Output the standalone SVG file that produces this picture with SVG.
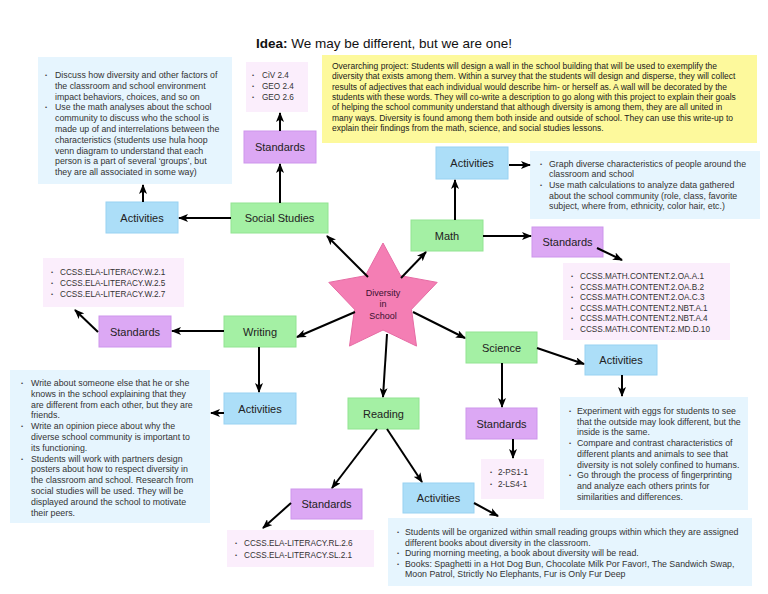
<svg xmlns="http://www.w3.org/2000/svg" width="768" height="594" viewBox="0 0 768 594">
<style>
text{font-family:"Liberation Sans",Arial,sans-serif}
.lbl{font-size:11px;fill:#222;text-anchor:middle}
.t{font-size:8.8px;fill:#333}
.s{font-size:8.2px;fill:#333}
.y{font-size:8.5px;fill:#1a1a1a}
.b{font-size:6px;fill:#444}
.green{fill:#A4F0A4;stroke:#92E492;stroke-width:1}
.purple{fill:#DCA8F4;stroke:#CD95EC;stroke-width:1}
.blue{fill:#ACDEF8;stroke:#98D2F2;stroke-width:1}
.lblue{fill:#E6F5FE}
.lpink{fill:#FBEEFC}
.conn line{stroke:#000;stroke-width:2;marker-end:url(#ah)}
</style>
<defs>
<marker id="ah" viewBox="0 0 10 8" markerWidth="5" markerHeight="4" refX="9" refY="4" orient="auto">
<path d="M0,0 L10,4 L0,8 L2.5,4 z" fill="#000"/>
</marker>
</defs>
<rect width="768" height="594" fill="#fff"/>

<text x="384" y="48" text-anchor="middle" font-size="13.5" fill="#111"><tspan font-weight="bold">Idea:</tspan> We may be different, but we are one!</text>

<g id="project">
<rect x="322" y="55" width="435" height="88" fill="#FDF99C"/>
<text class="y" x="332" y="69">Overarching project: Students will design a wall in the school building that will be used to exemplify the</text>
<text class="y" x="332" y="79.3">diversity that exists among them. Within a survey that the students will design and disperse, they will collect</text>
<text class="y" x="332" y="89.6">results of adjectives that each individual would describe him- or herself as. A wall will be decorated by the</text>
<text class="y" x="332" y="99.9">students with these words. They will co-write a description to go along with this project to explain their goals</text>
<text class="y" x="332" y="110.2">of helping the school community understand that although diversity is among them, they are all united in</text>
<text class="y" x="332" y="120.5">many ways. Diversity is found among them both inside and outside of school. They can use this write-up to</text>
<text class="y" x="332" y="130.8">explain their findings from the math, science, and social studies lessons.</text>
</g>

<g id="star">
<polygon points="383,243 400.6,275.7 437.2,282.4 411.5,309.3 416.5,346.1 383,330 349.5,346.1 354.5,309.3 328.8,282.4 365.4,275.7" fill="#F47EB4" stroke="#E66BA4" stroke-width="1"/>
<text x="383" y="296" text-anchor="middle" font-size="9" fill="#3a1030">Diversity</text>
<text x="383" y="307" text-anchor="middle" font-size="9" fill="#3a1030">in</text>
<text x="383" y="319" text-anchor="middle" font-size="9" fill="#3a1030">School</text>
</g>

<!-- Social Studies branch -->
<g id="social-studies"><rect class="green" x="231" y="203" width="97" height="30"/><text class="lbl" x="279.5" y="222">Social Studies</text></g>
<g id="ss-standards"><rect class="purple" x="244" y="131" width="72" height="32"/><text class="lbl" x="280" y="151">Standards</text></g>
<g id="ss-standards-list"><rect class="lpink" x="246" y="62" width="62" height="50"/>
<text class="b" x="252" y="77">•</text><text class="s" x="262" y="78" font-size="8.6">CiV 2.4</text>
<text class="b" x="252" y="88">•</text><text class="s" x="262" y="89" font-size="8.6">GEO 2.4</text>
<text class="b" x="252" y="99">•</text><text class="s" x="262" y="100" font-size="8.6">GEO 2.6</text>
</g>
<g id="ss-activities"><rect class="blue" x="106" y="202" width="72" height="31"/><text class="lbl" x="142" y="221.5">Activities</text></g>
<g id="ss-activities-list"><rect class="lblue" x="38" y="57" width="194" height="127"/>
<text class="b" x="45" y="77">•</text>
<text class="t" x="55" y="78">Discuss how diversity and other factors of</text>
<text class="t" x="55" y="88.8">the classroom and school environment</text>
<text class="t" x="55" y="99.6">impact behaviors, choices, and so on</text>
<text class="b" x="45" y="109.4">•</text>
<text class="t" x="55" y="110.4">Use the math analyses about the school</text>
<text class="t" x="55" y="121.2">community to discuss who the school is</text>
<text class="t" x="55" y="132">made up of and interrelations between the</text>
<text class="t" x="55" y="142.8">characteristics (students use hula hoop</text>
<text class="t" x="55" y="153.6">venn diagram to understand that each</text>
<text class="t" x="55" y="164.4">person is a part of several ‘groups’, but</text>
<text class="t" x="55" y="175.2">they are all associated in some way)</text>
</g>

<!-- Math branch -->
<g id="math"><rect class="green" x="411" y="220" width="72" height="31"/><text class="lbl" x="447" y="239.5">Math</text></g>
<g id="math-activities"><rect class="blue" x="436" y="147" width="72" height="32"/><text class="lbl" x="472" y="167">Activities</text></g>
<g id="math-activities-list"><rect class="lblue" x="530" y="151" width="230" height="68"/>
<text class="b" x="540" y="165.5">•</text>
<text class="t" x="549" y="166.5">Graph diverse characteristics of people around the</text>
<text class="t" x="549" y="177.2">classroom and school</text>
<text class="b" x="540" y="187">•</text>
<text class="t" x="549" y="188">Use math calculations to analyze data gathered</text>
<text class="t" x="549" y="198.7">about the school community (role, class, favorite</text>
<text class="t" x="549" y="209.4">subject, where from, ethnicity, color hair, etc.)</text>
</g>
<g id="math-standards"><rect class="purple" x="532" y="227" width="71" height="30"/><text class="lbl" x="567.5" y="246">Standards</text></g>
<g id="math-standards-list"><rect class="lpink" x="563" y="263" width="167" height="77"/>
<text class="b" x="571" y="278">•</text><text class="s" x="580" y="279">CCSS.MATH.CONTENT.2.OA.A.1</text>
<text class="b" x="571" y="288.5">•</text><text class="s" x="580" y="289.5">CCSS.MATH.CONTENT.2.OA.B.2</text>
<text class="b" x="571" y="299">•</text><text class="s" x="580" y="300">CCSS.MATH.CONTENT.2.OA.C.3</text>
<text class="b" x="571" y="309.5">•</text><text class="s" x="580" y="310.5">CCSS.MATH.CONTENT.2.NBT.A.1</text>
<text class="b" x="571" y="320">•</text><text class="s" x="580" y="321">CCSS.MATH.CONTENT.2.NBT.A.4</text>
<text class="b" x="571" y="330.5">•</text><text class="s" x="580" y="331.5">CCSS.MATH.CONTENT.2.MD.D.10</text>
</g>

<!-- Writing branch -->
<g id="writing"><rect class="green" x="224" y="316" width="72" height="31"/><text class="lbl" x="260" y="335.5">Writing</text></g>
<g id="writing-standards"><rect class="purple" x="99" y="316" width="72" height="31"/><text class="lbl" x="135" y="335.5">Standards</text></g>
<g id="writing-standards-list"><rect class="lpink" x="43" y="258" width="141" height="49"/>
<text class="b" x="51" y="274">•</text><text class="s" x="60" y="275">CCSS.ELA-LITERACY.W.2.1</text>
<text class="b" x="51" y="285">•</text><text class="s" x="60" y="286">CCSS.ELA-LITERACY.W.2.5</text>
<text class="b" x="51" y="296">•</text><text class="s" x="60" y="297">CCSS.ELA-LITERACY.W.2.7</text>
</g>
<g id="writing-activities"><rect class="blue" x="224" y="393" width="72" height="31"/><text class="lbl" x="260" y="412.5">Activities</text></g>
<g id="writing-activities-list"><rect class="lblue" x="10" y="370" width="200" height="153"/>
<text class="b" x="21" y="385">•</text>
<text class="t" x="31" y="386">Write about someone else that he or she</text>
<text class="t" x="31" y="396.8">knows in the school explaining that they</text>
<text class="t" x="31" y="407.6">are different from each other, but they are</text>
<text class="t" x="31" y="418.4">friends.</text>
<text class="b" x="21" y="428.2">•</text>
<text class="t" x="31" y="429.2">Write an opinion piece about why the</text>
<text class="t" x="31" y="440">diverse school community is important to</text>
<text class="t" x="31" y="450.8">its functioning.</text>
<text class="b" x="21" y="460.6">•</text>
<text class="t" x="31" y="461.6">Students will work with partners design</text>
<text class="t" x="31" y="472.4">posters about how to respect diversity in</text>
<text class="t" x="31" y="483.2">the classroom and school. Research from</text>
<text class="t" x="31" y="494">social studies will be used. They will be</text>
<text class="t" x="31" y="504.8">displayed around the school to motivate</text>
<text class="t" x="31" y="515.6">their peers.</text>
</g>

<!-- Science branch -->
<g id="science"><rect class="green" x="466" y="332" width="71" height="31"/><text class="lbl" x="501.5" y="351.5">Science</text></g>
<g id="science-standards"><rect class="purple" x="466" y="408" width="71" height="31"/><text class="lbl" x="501.5" y="427.5">Standards</text></g>
<g id="science-standards-list"><rect class="lpink" x="481" y="459" width="63" height="40"/>
<text class="b" x="490" y="474">•</text><text class="s" x="498" y="475" font-size="8.6">2-PS1-1</text>
<text class="b" x="490" y="486">•</text><text class="s" x="498" y="487" font-size="8.6">2-LS4-1</text>
</g>
<g id="science-activities"><rect class="blue" x="585" y="345" width="72" height="30"/><text class="lbl" x="621" y="364">Activities</text></g>
<g id="science-activities-list"><rect class="lblue" x="560" y="397" width="188" height="113"/>
<text class="b" x="569" y="413">•</text>
<text class="t" x="577" y="414">Experiment with eggs for students to see</text>
<text class="t" x="577" y="424.7">that the outside may look different, but the</text>
<text class="t" x="577" y="435.4">inside is the same.</text>
<text class="b" x="569" y="445.1">•</text>
<text class="t" x="577" y="446.1">Compare and contrast characteristics of</text>
<text class="t" x="577" y="456.8">different plants and animals to see that</text>
<text class="t" x="577" y="467.5">diversity is not solely confined to humans.</text>
<text class="b" x="569" y="477.2">•</text>
<text class="t" x="577" y="478.2">Go through the process of fingerprinting</text>
<text class="t" x="577" y="488.9">and analyze each others prints for</text>
<text class="t" x="577" y="499.6">similarities and differences.</text>
</g>

<!-- Reading branch -->
<g id="reading"><rect class="green" x="348" y="398" width="71" height="31"/><text class="lbl" x="383.5" y="417.5">Reading</text></g>
<g id="reading-standards"><rect class="purple" x="291" y="489" width="71" height="30"/><text class="lbl" x="326.5" y="508">Standards</text></g>
<g id="reading-standards-list"><rect class="lpink" x="227" y="530" width="147" height="37"/>
<text class="b" x="235" y="545">•</text><text class="s" x="244" y="546">CCSS.ELA-LITERACY.RL.2.6</text>
<text class="b" x="235" y="557">•</text><text class="s" x="244" y="558">CCSS.ELA-LITERACY.SL.2.1</text>
</g>
<g id="reading-activities"><rect class="blue" x="403" y="483" width="71" height="30"/><text class="lbl" x="438.5" y="502">Activities</text></g>
<g id="reading-activities-list"><rect class="lblue" x="388" y="518" width="364" height="68"/>
<text class="b" x="397" y="534">•</text>
<text class="t" x="405" y="535">Students will be organized within small reading groups within which they are assigned</text>
<text class="t" x="405" y="545.5">different books about diversity in the classroom.</text>
<text class="b" x="397" y="555">•</text>
<text class="t" x="405" y="556">During morning meeting, a book about diversity will be read.</text>
<text class="b" x="397" y="565.5">•</text>
<text class="t" x="405" y="566.5">Books: Spaghetti in a Hot Dog Bun, Chocolate Milk Por Favor!, The Sandwich Swap,</text>
<text class="t" x="405" y="577">Moon Patrol, Strictly No Elephants,  Fur is Only Fur Deep</text>
</g>

<g id="connectors" class="conn">
<line x1="368" y1="277" x2="327" y2="236"/>
<line x1="401" y1="278" x2="426" y2="252"/>
<line x1="355" y1="312" x2="297" y2="337"/>
<line x1="387" y1="334" x2="383" y2="397"/>
<line x1="413" y1="312" x2="465" y2="338"/>
<line x1="280" y1="203" x2="280" y2="164"/>
<line x1="280" y1="131" x2="280" y2="113"/>
<line x1="231" y1="218" x2="179" y2="218"/>
<line x1="143" y1="202" x2="143" y2="185"/>
<line x1="455" y1="220" x2="455" y2="180"/>
<line x1="509" y1="165" x2="530" y2="165"/>
<line x1="483" y1="236" x2="531" y2="236"/>
<line x1="597" y1="248" x2="622" y2="260"/>
<line x1="224" y1="331" x2="172" y2="331"/>
<line x1="98" y1="332" x2="75" y2="310"/>
<line x1="259" y1="347" x2="259" y2="392"/>
<line x1="224" y1="413" x2="211" y2="413"/>
<line x1="502" y1="363" x2="502" y2="407"/>
<line x1="513" y1="439" x2="513" y2="458"/>
<line x1="537" y1="348" x2="584" y2="364"/>
<line x1="622" y1="375" x2="622" y2="396"/>
<line x1="377" y1="429" x2="332" y2="488"/>
<line x1="387" y1="429" x2="422" y2="482"/>
<line x1="291" y1="503" x2="263" y2="528"/>
<line x1="474" y1="503" x2="498" y2="516"/>
</g>
</svg>
